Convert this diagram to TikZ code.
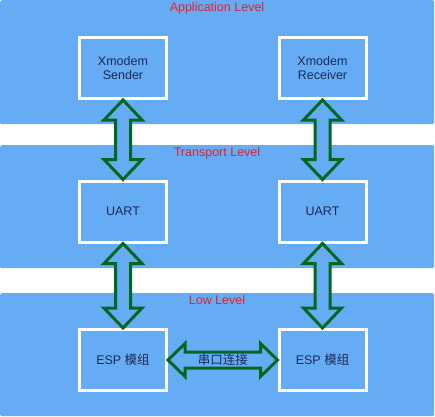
\documentclass[tikz,border=0pt]{standalone}
\usepackage{fontspec}
\setmainfont{Liberation Sans}
\newfontfamily\cjk{Noto Sans CJK SC}
\usetikzlibrary{calc,positioning}
\definecolor{levelcol}{RGB}{102,172,245}
\definecolor{linkcol}{RGB}{0,104,32}
\definecolor{textcol}{RGB}{27,42,85}
\definecolor{labelcol}{RGB}{230,32,42}

% vertical double arrow from the bottom of #1 to the top of #2
\newcommand{\vlink}[2]{%
  \draw[linkarrow] (#1.south) -- ($(#1.south)+(19,20)$) -- ($(#1.south)+(7.5,20)$)
    -- ($(#2.north)+(7.5,-20)$) -- ($(#2.north)+(19,-20)$) -- (#2.north)
    -- ($(#2.north)+(-19,-20)$) -- ($(#2.north)+(-7.5,-20)$)
    -- ($(#1.south)+(-7.5,20)$) -- ($(#1.south)+(-19,20)$) -- cycle;}

\begin{document}
\begin{tikzpicture}[x=1pt,y=-1pt,
  level/.style={fill=levelcol,draw=none,rounded corners=1.5pt,minimum width=434pt,minimum height=#1,inner sep=0pt,anchor=north west},
  layerbox/.style={draw=white,line width=3pt,fill=levelcol,minimum width=87pt,minimum height=61pt,align=center,text=textcol,font=\fontsize{12.5}{14.5}\selectfont},
  levelname/.style={text=labelcol,font=\fontsize{12.5}{14.5}\selectfont,inner sep=0pt},
  linkarrow/.style={draw=linkcol,fill=levelcol,line width=3pt,line join=miter}]
\useasboundingbox (0,0) rectangle (435,416);
% three levels
\node[level=124pt] (app) at (0,0) {};
\node[level=123pt] (trans) at (0,145) {};
\node[level=123pt] (low) at (0,293) {};
\node[levelname] (appname) at (217,8) {Application Level};
\node[levelname] (transname) at (217,153) {Transport Level};
\node[levelname] (lowname) at (217,300) {Low Level};
% boxes
\node[layerbox] (sender) at (123,68) {Xmodem\\Sender};
\node[layerbox] (receiver) at (322.5,68) {Xmodem\\Receiver};
\node[layerbox] (uartl) at (123,211.5) {UART};
\node[layerbox] (uartr) at (322.5,211.5) {UART};
\node[layerbox] (espl) at (123,360) {ESP {\cjk 模组}};
\node[layerbox] (espr) at (322.5,360) {ESP {\cjk 模组}};
% links
\vlink{sender}{uartl}
\vlink{receiver}{uartr}
\vlink{uartl}{espl}
\vlink{uartr}{espr}
\draw[linkarrow] (espl.east) -- ($(espl.east)+(17,-16.5)$) -- ($(espl.east)+(17,-8)$)
  -- ($(espr.west)+(-17,-8)$) -- ($(espr.west)+(-17,-16.5)$) -- (espr.west)
  -- ($(espr.west)+(-17,16.5)$) -- ($(espr.west)+(-17,8)$)
  -- ($(espl.east)+(17,8)$) -- ($(espl.east)+(17,16.5)$) -- cycle;
\node[text=textcol,font=\cjk\fontsize{12.5}{14.5}\selectfont,inner sep=0pt] (serial) at ($(espl.east)!0.5!(espr.west)$) {串口连接};
\end{tikzpicture}
\end{document}
